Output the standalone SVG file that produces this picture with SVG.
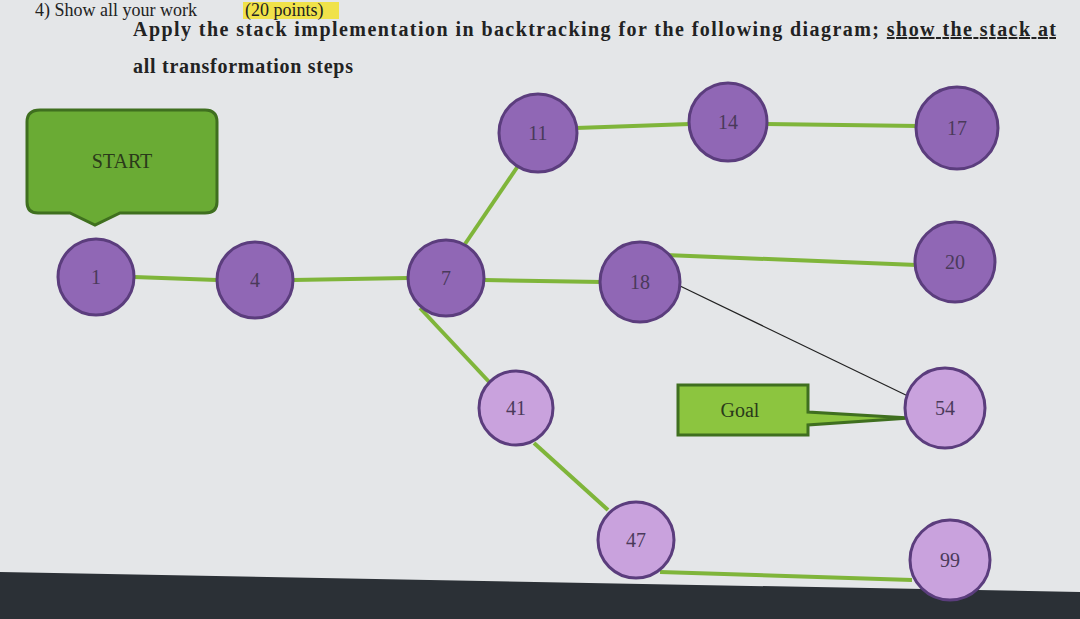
<svg xmlns="http://www.w3.org/2000/svg" width="1080" height="619" viewBox="0 0 1080 619">
<style>
.n circle{stroke:#5b3d7d;stroke-width:3}
.d{fill:#9067b5}.l{fill:#c9a2dd}
.n text{font-family:"Liberation Serif",serif;font-size:20px;fill:#4a3a5a;text-anchor:middle}
.e{stroke:#7fb53a;stroke-width:4;fill:none}
.t{font-family:"Liberation Serif",serif;fill:#222}
</style>
<rect width="1080" height="619" fill="#e4e6e8"/>
<polygon points="0,572 1080,592 1080,619 0,619" fill="#2b3036"/>
<rect x="243" y="2" width="96" height="17" fill="#f0e24a"/>
<text class="t" x="35" y="16" font-size="18">4) Show all your work</text>
<text class="t" x="245" y="16" font-size="18">(20 points)</text>
<text class="t" x="133" y="36" font-size="20" font-weight="bold" textLength="923" lengthAdjust="spacing">Apply the stack implementation in backtracking for the following diagram; <tspan text-decoration="underline">show the stack at</tspan></text>
<text class="t" x="133" y="73" font-size="20" font-weight="bold" textLength="220" lengthAdjust="spacing">all transformation steps</text>
<g id="connectors">
<line class="e" x1="134" y1="277" x2="217" y2="280"/>
<line class="e" x1="293" y1="280" x2="408" y2="278"/>
<line class="e" x1="484" y1="280" x2="602" y2="282"/>
<line class="e" x1="465" y1="244" x2="518" y2="166"/>
<line class="e" x1="576" y1="128" x2="690" y2="124"/>
<line class="e" x1="766" y1="124" x2="919" y2="126"/>
<line class="e" x1="665" y1="255" x2="917" y2="265"/>
<line x1="678" y1="285" x2="912" y2="398" stroke="#222" stroke-width="1.2"/>
<line class="e" x1="420" y1="308" x2="492" y2="385" stroke-width="2"/>
<line class="e" x1="534" y1="443" x2="608" y2="510" stroke-width="2"/>
<line class="e" x1="660" y1="572" x2="912" y2="580"/>
</g>
<g id="start">
<path d="M40,110 H205 Q217,110 217,122 V202 Q217,213 205,213 H120 L95,225 L70,213 H38 Q27,213 27,202 V122 Q27,110 40,110 Z" fill="#6aab34" stroke="#3f6f1f" stroke-width="3"/>
<text x="122" y="168" font-family="Liberation Serif,serif" font-size="20" fill="#2a3a1a" text-anchor="middle">START</text>
</g>
<g id="goal">
<polygon points="678,385 808,385 808,412 910,418 808,425 808,435 678,435" fill="#8cc53f" stroke="#3f6f1f" stroke-width="3"/>
<text x="740" y="417" font-family="Liberation Serif,serif" font-size="20" fill="#2a3a1a" text-anchor="middle">Goal</text>
</g>
<g id="n1" class="n"><circle class="d" cx="96" cy="277" r="38"/><text x="96" y="284">1</text></g>
<g id="n4" class="n"><circle class="d" cx="255" cy="280" r="38"/><text x="255" y="287">4</text></g>
<g id="n7" class="n"><circle class="d" cx="446" cy="278" r="38"/><text x="446" y="285">7</text></g>
<g id="n11" class="n"><circle class="d" cx="538" cy="133" r="39"/><text x="538" y="140">11</text></g>
<g id="n14" class="n"><circle class="d" cx="728" cy="122" r="39"/><text x="728" y="129">14</text></g>
<g id="n17" class="n"><circle class="d" cx="957" cy="128" r="41"/><text x="957" y="135">17</text></g>
<g id="n18" class="n"><circle class="d" cx="640" cy="282" r="40"/><text x="640" y="289">18</text></g>
<g id="n20" class="n"><circle class="d" cx="955" cy="262" r="40"/><text x="955" y="269">20</text></g>
<g id="n41" class="n"><circle class="l" cx="516" cy="408" r="37"/><text x="516" y="415">41</text></g>
<g id="n54" class="n"><circle class="l" cx="945" cy="408" r="40"/><text x="945" y="415">54</text></g>
<g id="n47" class="n"><circle class="l" cx="636" cy="540" r="38"/><text x="636" y="547">47</text></g>
<g id="n99" class="n"><circle class="l" cx="950" cy="560" r="40"/><text x="950" y="567">99</text></g>
</svg>
